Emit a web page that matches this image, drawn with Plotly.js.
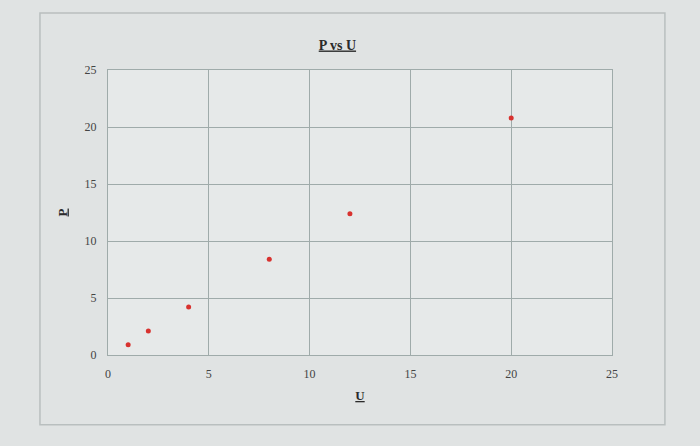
<!DOCTYPE html>
<html>
<head>
<meta charset="utf-8">
<script src="https://cdn.plot.ly/plotly-3.0.1.min.js"></script>
<style>
  html, body { margin: 0; padding: 0; background: #dfe2e2; }
  #plot { width: 700px; height: 446px; }
</style>
</head>
<body>
<div id="plot"></div>
<script>
"use strict";

const uValues = [1, 2, 4, 8, 12, 20];
const pValues = [0.9, 2.1, 4.2, 8.4, 12.4, 20.8];
const tickVals = [0, 5, 10, 15, 20, 25];

const serif = "Liberation Serif, Times New Roman, serif";
const gridGrey = "#9fabaa";

const traces = [{
    type: "scatter", mode: "markers",
    x: uValues, y: pValues,
    marker: { size: 5, color: "#d8322f" },
    showlegend: false,
}];

const layout = {
    width: 700, height: 446,
    margin: { l: 108, r: 88, t: 70, b: 91 },
    paper_bgcolor: "#e0e3e3",
    plot_bgcolor: "#e6e9e9",
    font: { family: serif, size: 12, color: "#333" },
    title: {
        text: "<b><u>P vs U</u></b>",
        x: 0.482, xanchor: "center", y: 0.9, yanchor: "middle",
        font: { family: serif, size: 14, color: "#2b2b2b" },
    },
    xaxis: {
        range: [0, 25], tickvals: tickVals,
        showgrid: true, gridcolor: gridGrey, gridwidth: 1,
        showline: true, linecolor: gridGrey, mirror: true,
        zeroline: false, ticks: "", ticklen: 0, ticklabelstandoff: 8,
        tickfont: { family: serif, size: 12, color: "#444" },
        title: { text: "<b><u>U</u></b>", standoff: 10,
                 font: { family: serif, size: 13, color: "#2b2b2b" } },
    },
    yaxis: {
        range: [0, 25], tickvals: tickVals,
        showgrid: true, gridcolor: gridGrey, gridwidth: 1,
        showline: true, linecolor: gridGrey, mirror: true,
        zeroline: false, ticks: "", ticklen: 0, ticklabelstandoff: 8,
        tickfont: { family: serif, size: 12, color: "#444" },
        title: { text: "<b><u>P</u></b>", standoff: 14,
                 font: { family: serif, size: 13, color: "#2b2b2b" } },
    },
    // Chart area frame seen in the photo
    shapes: [
        { type: "rect", xref: "paper", yref: "paper",
          x0: -0.135, x1: 1.105, y0: -0.245, y1: 1.2,
          line: { color: "#b9bfbf", width: 1.5 },
          fillcolor: "rgba(0,0,0,0)", layer: "below" },
    ],
};

Plotly.newPlot("plot", traces, layout, { displayModeBar: false, staticPlot: true });
</script>
</body>
</html>
